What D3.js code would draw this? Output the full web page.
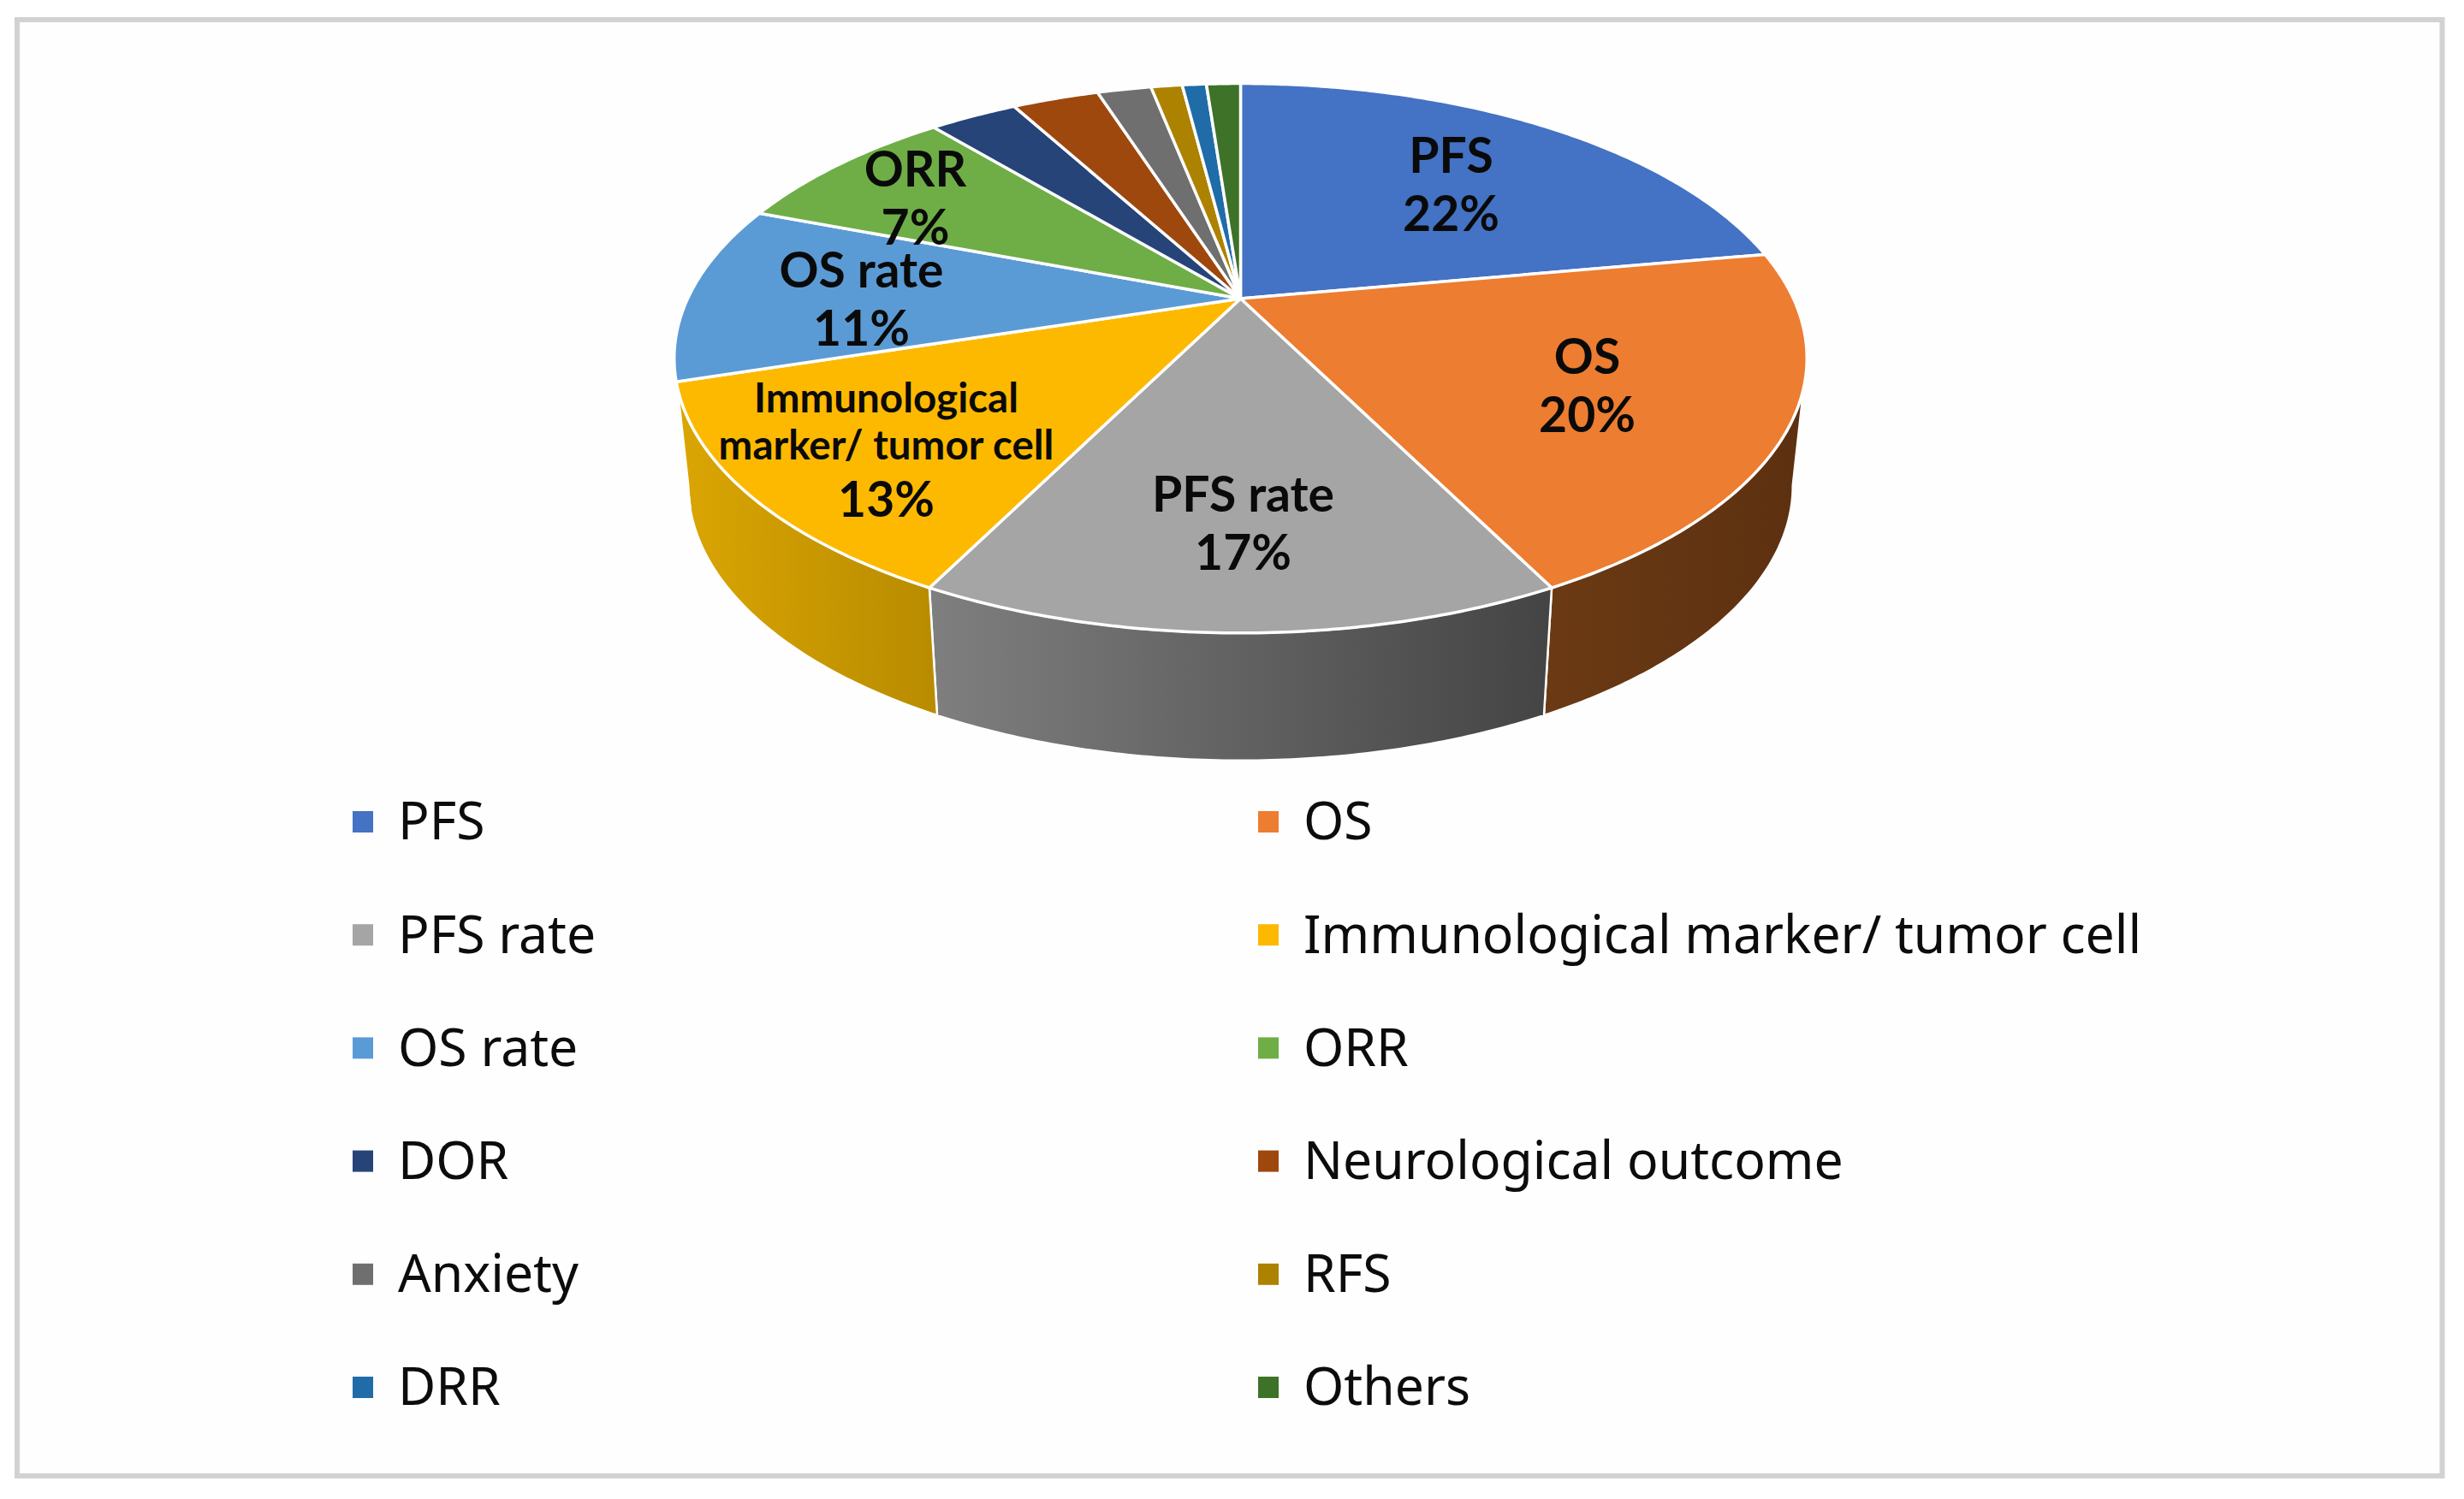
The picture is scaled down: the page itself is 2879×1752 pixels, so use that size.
<!DOCTYPE html>
<html><head><meta charset="utf-8">
<script src="https://cdn.jsdelivr.net/npm/d3@7/dist/d3.min.js"></script>
<style>html,body{margin:0;padding:0;background:#fff}svg{display:block}</style>
</head><body><svg id="c" width="2879" height="1752"></svg>
<script>
// Data
const categories = ["PFS","OS","PFS rate","Immunological marker/ tumor cell","OS rate","ORR","DOR","Neurological outcome","Anxiety","RFS","DRR","Others"];
const sliceShares = [22.2,20.3,15,12.7,10.5,8.1,3.1,3.05,1.9,1.1,0.85,1.2];
// percentages printed on the slices
const printedPercent = [22,20,17,13,11,7];
const labelLines = [["PFS"],["OS"],["PFS rate"],["Immunological","marker/ tumor cell"],["OS rate"],["ORR"]];
const topColors = ["#4472c4","#ed7d31","#a5a5a5","#fdb900","#5b9bd5","#6fae46","#264478","#9e480e","#6f6f6f","#ad8200","#1f6ca8","#3d7228"];
const wallFrom = ["#2f4f88","#6b3a14","#7f7f7f","#dba603","#3f6d95","#4e7a31","#1a305a","#6e320a","#464646","#7a5b00","#164b75","#2b501c"];
const wallTo   = ["#2f4f88","#5c3010","#444444","#b98c00","#3f6d95","#4e7a31","#1a305a","#6e320a","#464646","#7a5b00","#164b75","#2b501c"];

const FONT_LABEL = "Lato, 'Open Sans', sans-serif";
const FONT_LEGEND = "'Noto Sans', sans-serif";

// Projection of the pie disc: perspective plane seen from the front
const cx = 1449.5, cy = 349, A = 646, B = 306, P = 0.217, DEPTH = 149, SHRINK = 0.975;
const projectTop = (t, r=1) => { const u=r*Math.sin(t), v=r*Math.cos(t), w=1+P*v; return [cx+A*u/w, cy-B*v/w]; };
const projectBottom = t => { const [x,y]=projectTop(t); return [cx+(x-cx)*SHRINK, y+DEPTH]; };
const visibleFrom = Math.PI - Math.acos(P), visibleTo = Math.PI + Math.acos(P);

const svg = d3.select("#c");
svg.append("rect").attr("width",2879).attr("height",1752).attr("fill","#fff");
svg.append("rect").attr("x",20).attr("y",23).attr("width",2833.5).attr("height",1702)
   .attr("fill","#fefefe").attr("stroke","#d2d2d2").attr("stroke-width",6);

const pie = d3.pie().sort(null).startAngle(0).endAngle(2*Math.PI);
const arcs = pie(sliceShares);
const color = d3.scaleOrdinal().domain(categories).range(topColors);
const line = d3.line();
const samples = (a,b) => { const n=Math.max(2,Math.ceil((b-a)/0.01)); return d3.range(n+1).map(i=>a+(b-a)*i/n); };

const defs = svg.append("defs");
arcs.forEach((d,i)=>{
  const a=Math.max(d.startAngle,visibleFrom), b=Math.min(d.endAngle,visibleTo);
  if(b<=a) return;
  const xa=projectTop(b)[0], xb=projectTop(a)[0];
  const g=defs.append("linearGradient").attr("id","w"+i).attr("gradientUnits","userSpaceOnUse")
    .attr("x1",xa).attr("x2",xb).attr("y1",0).attr("y2",0);
  g.append("stop").attr("offset",0).attr("stop-color",wallFrom[i]);
  g.append("stop").attr("offset",1).attr("stop-color",wallTo[i]);
});

// side walls
const walls = svg.append("g");
arcs.forEach((d,i)=>{
  const a=Math.max(d.startAngle,visibleFrom), b=Math.min(d.endAngle,visibleTo);
  if(b<=a) return;
  const t=samples(a,b);
  const pts=t.map(x=>projectTop(x)).concat(t.slice().reverse().map(projectBottom));
  walls.append("path").attr("d",line(pts)+"Z").attr("fill",`url(#w${i})`)
    .attr("stroke","#fff").attr("stroke-width",2.5).attr("stroke-linejoin","round");
});

// top surface
svg.append("g").selectAll("path").data(arcs).join("path")
  .attr("d",d=>line([[cx,cy],...samples(d.startAngle,d.endAngle).map(x=>projectTop(x))])+"Z")
  .attr("fill",(d,i)=>color(categories[i]))
  .attr("stroke","#fff").attr("stroke-width",3.5).attr("stroke-linejoin","round");

// slice labels (centre of the block, relative to pie apex)
const labelCenter = [[246,-133],[405,102],[3,263],[-414,176],[-443,1],[-380,-117]];
const labelSize = [57,57,57,47.5,57,57];
const pctSize = 57, gap = 68;
const lab = svg.append("g").attr("font-family",FONT_LABEL).attr("font-weight",700).attr("fill","#0a0a0a").attr("text-anchor","middle");
printedPercent.forEach((p,i)=>{
  const [dx,dy]=labelCenter[i], lines=labelLines[i];
  const lineGap = lines.length>1?55:gap;
  const total = (lines.length-1)*lineGap + (lines.length>1?64:gap);
  let y = cy+dy-total/2;
  lines.forEach((t,k)=>{
    lab.append("text").attr("x",cx+dx).attr("y",y+k*lineGap).attr("dy","0.35em").attr("font-size",labelSize[i]).text(t);
  });
  lab.append("text").attr("x",cx+dx).attr("y",y+total).attr("dy","0.35em").attr("font-size",pctSize).text(p+"%");
});

// legend
const rows = d3.range(Math.ceil(categories.length/2));
const yRow = d3.scalePoint().domain(rows).range([960,1621]);
const xCol = d3.scalePoint().domain([0,1]).range([412,1470]);
const lg = svg.append("g").selectAll("g").data(categories).join("g")
  .attr("transform",(d,i)=>`translate(${xCol(i%2)},${yRow(Math.floor(i/2))})`);
lg.append("rect").attr("x",0).attr("y",-12).attr("width",24).attr("height",25).attr("fill",d=>color(d));
lg.append("text").attr("transform","translate(53,-1) scale(0.978,1)").attr("dy","0.36em").attr("font-family",FONT_LEGEND)
  .attr("font-size",62).attr("fill","#0c0c0c").text(d=>d);
</script></body></html>
